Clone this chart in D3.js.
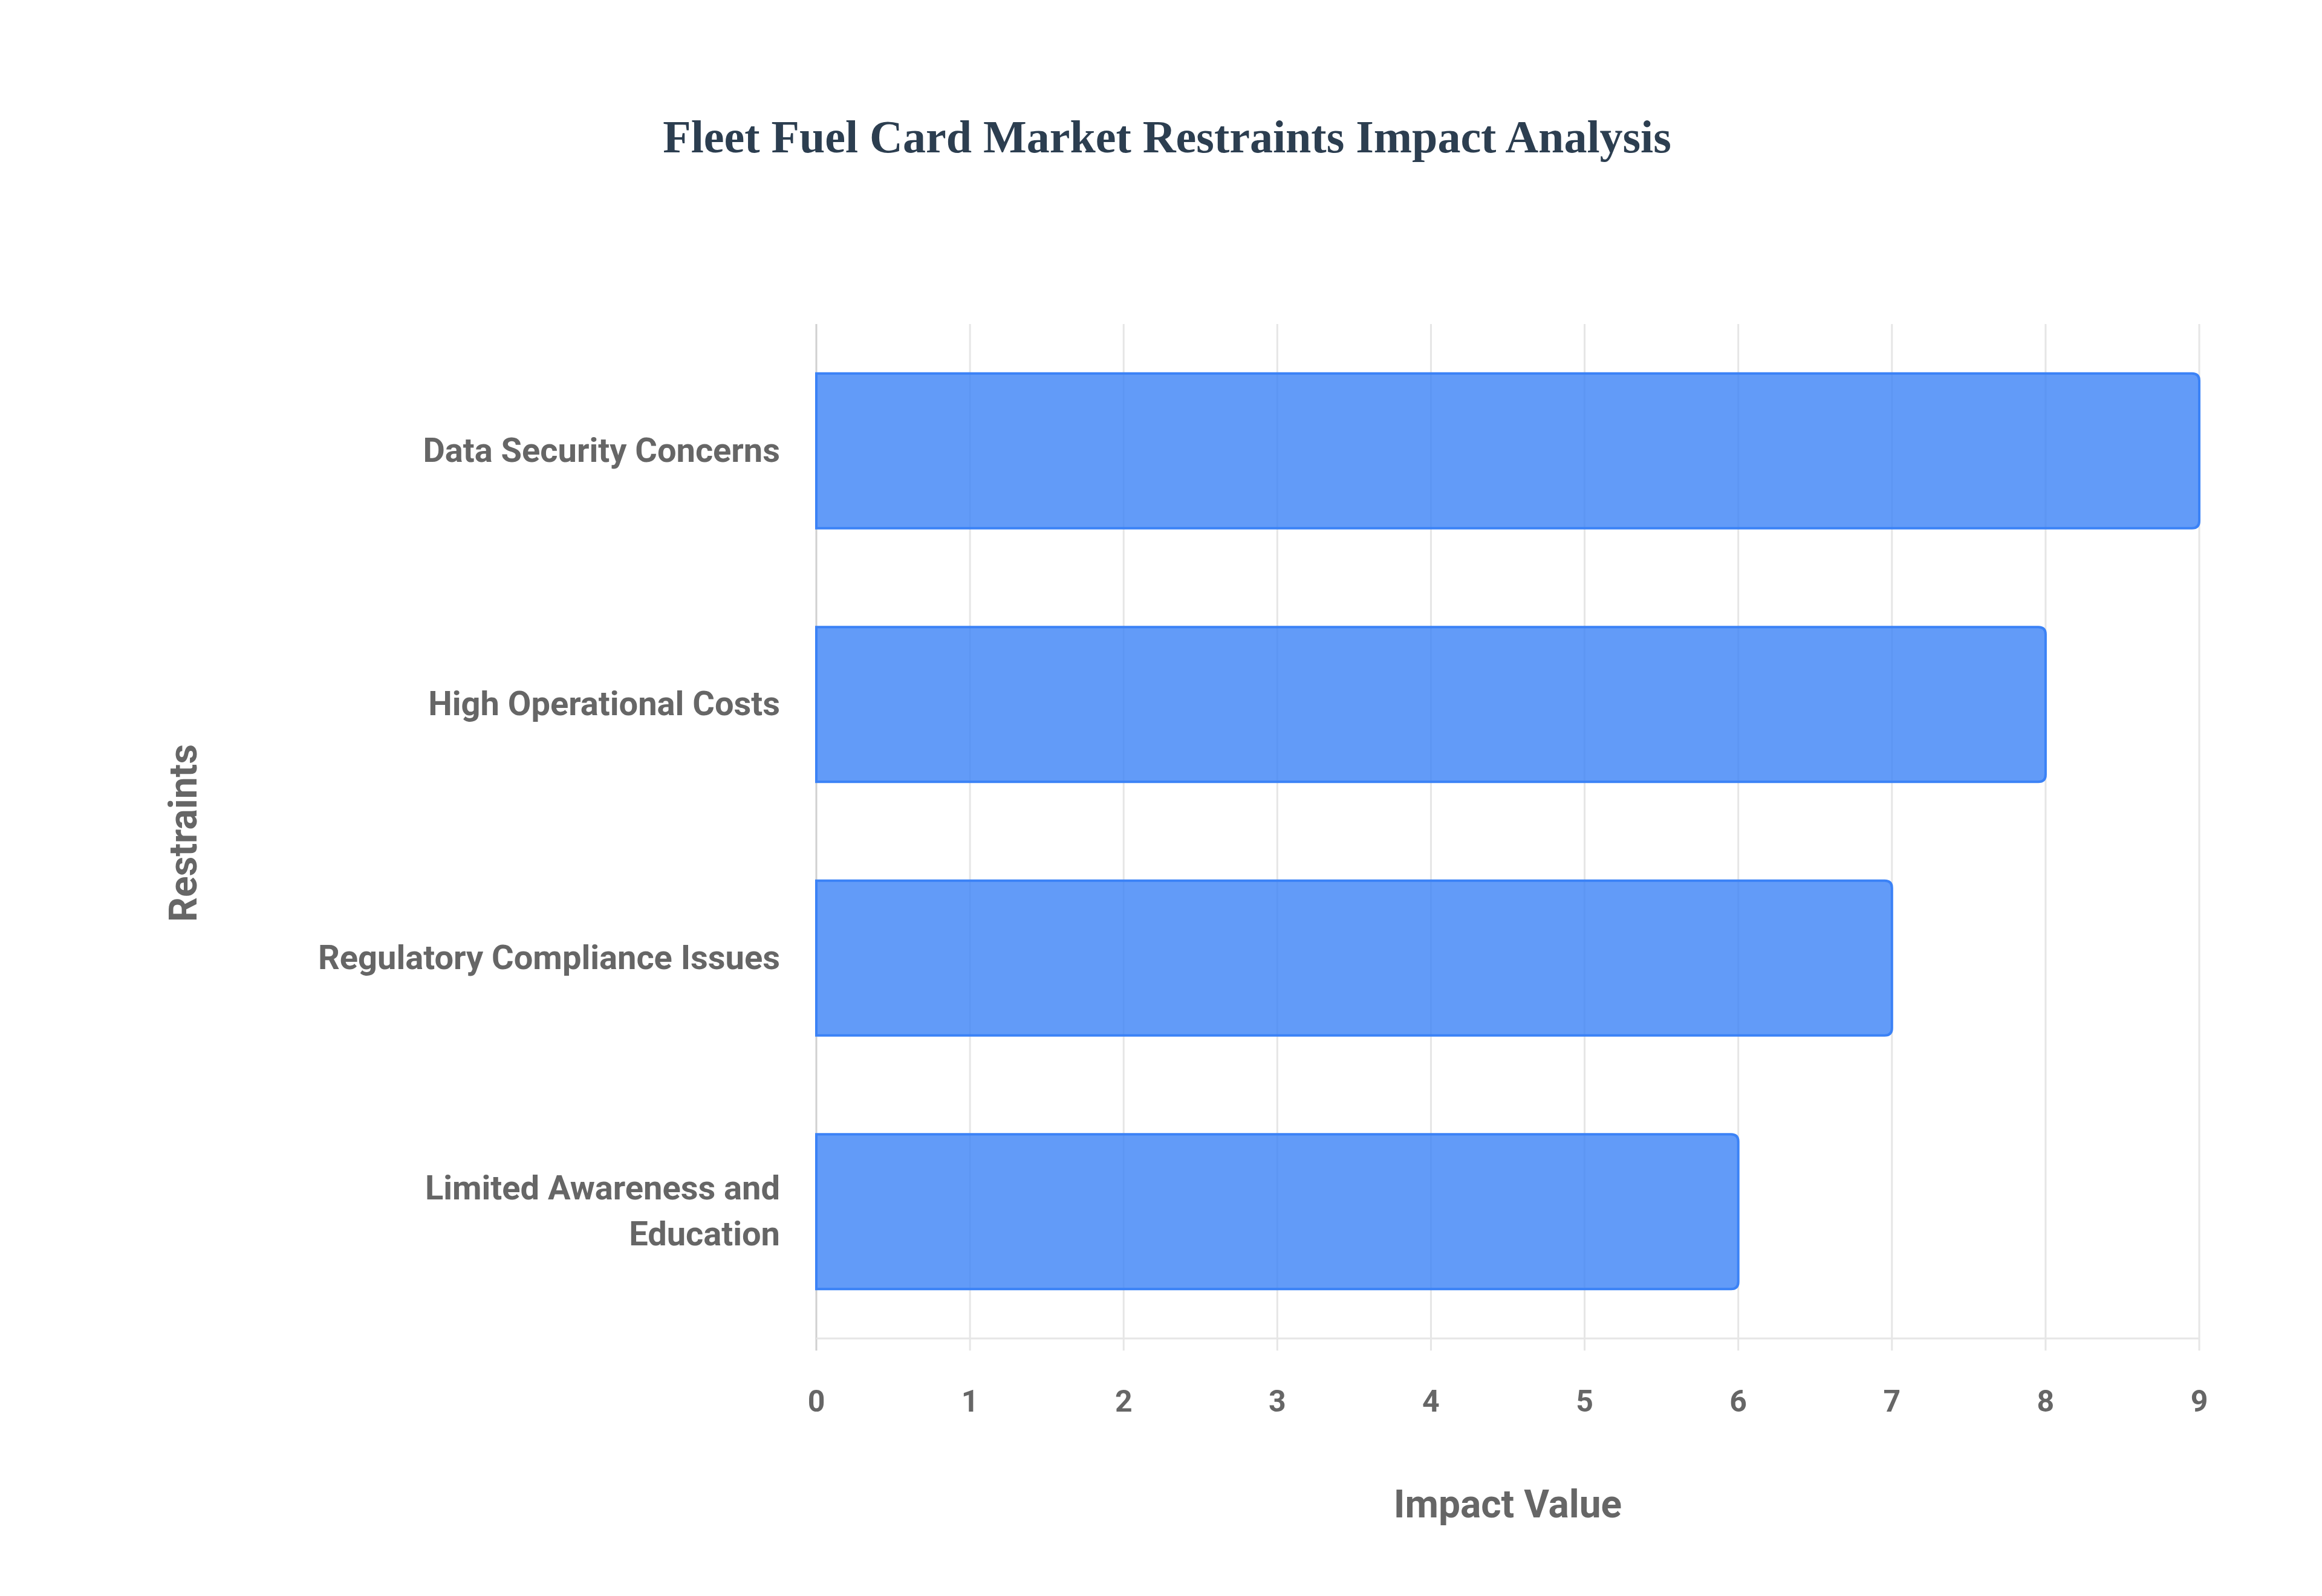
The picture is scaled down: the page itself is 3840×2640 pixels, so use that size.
<!DOCTYPE html>
<html><head><meta charset="utf-8">
<script src="https://cdn.jsdelivr.net/npm/d3@7"></script>
<style>body{margin:0;background:#fff}</style></head>
<body><svg id="c" width="3840" height="2640"></svg>
<script>
const categories = ["Data Security Concerns","High Operational Costs","Regulatory Compliance Issues","Limited Awareness and Education"];
const labelLines = [["Data Security Concerns"],["High Operational Costs"],["Regulatory Compliance Issues"],["Limited Awareness and","Education"]];
const values = [9,8,7,6];
const xTicks = [0,1,2,3,4,5,6,7,8,9];

const svg = d3.select("#c");
const m = {l:1350, r:3637, t:536, b:2214};
const font = "'Liberation Sans Narrow','Roboto',sans-serif";
const x = d3.scaleLinear().domain([0,9]).range([m.l,m.r]);
const y = d3.scaleBand().domain(categories).range([m.t,m.b]).paddingInner(0.39).paddingOuter(0.195);

svg.append("g").selectAll("line").data(xTicks).join("line")
  .attr("x1",d=>x(d)).attr("x2",d=>x(d)).attr("y1",m.t).attr("y2",m.b+20)
  .attr("stroke",d=>d===0?"#d0d0d0":"#e6e6e6").attr("stroke-width",3);
svg.append("line").attr("x1",m.l).attr("x2",m.r).attr("y1",m.b).attr("y2",m.b).attr("stroke","#e6e6e6").attr("stroke-width",3);

const r = 12;
svg.append("g").selectAll("path").data(values).join("path")
  .attr("d",(d,i)=>{const x0=x(0),x1=x(d),y0=y(categories[i]),h=y.bandwidth();
    return `M${x0},${y0}H${x1-r}Q${x1},${y0} ${x1},${y0+r}V${y0+h-r}Q${x1},${y0+h} ${x1-r},${y0+h}H${x0}Z`;})
  .attr("fill","rgba(59,130,246,0.8)").attr("stroke","#3b82f6").attr("stroke-width",4);

svg.append("g").selectAll("text").data(xTicks).join("text")
  .attr("x",d=>x(d)).attr("y",2335).attr("text-anchor","middle")
  .attr("font-family",font).attr("font-weight","bold").attr("font-size",50).attr("fill","#666").text(d=>d);

categories.forEach((c,i)=>{
  const lines = labelLines[i];
  const cy = y(c)+y.bandwidth()/2;
  const lh = 76;
  const t = svg.append("text").attr("text-anchor","end").attr("font-family",font).attr("font-weight","bold")
    .attr("font-size",56).attr("fill","#666");
  lines.forEach((l,k)=>t.append("tspan").attr("x",1290)
    .attr("y",cy+18+(k-(lines.length-1)/2)*lh).text(l));
});

svg.append("text").attr("x",(m.l+m.r)/2).attr("y",2510).attr("text-anchor","middle")
  .attr("font-family",font).attr("font-weight","bold").attr("font-size",64).attr("fill","#666").text("Impact Value");
svg.append("text").attr("transform","translate(325,1378) rotate(-90)").attr("text-anchor","middle")
  .attr("font-family",font).attr("font-weight","bold").attr("font-size",64).attr("fill","#666").text("Restraints");
svg.append("text").attr("x",1930).attr("y",252).attr("text-anchor","middle")
  .attr("font-family","'Liberation Serif','DejaVu Serif',serif").attr("font-weight","bold").attr("font-size",76)
  .attr("fill","#2c3e50").text("Fleet Fuel Card Market Restraints Impact Analysis");
</script></body></html>
